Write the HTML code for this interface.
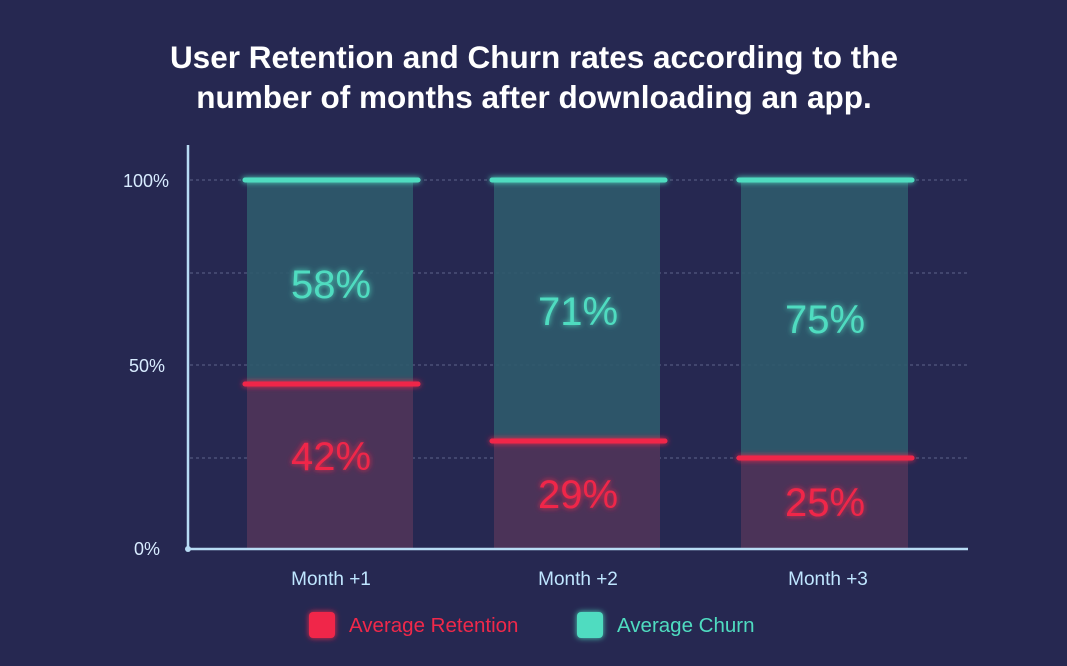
<!DOCTYPE html>
<html><head><style>
body{margin:0;background:#262851;}
svg{display:block}
text{font-family:"Liberation Sans",sans-serif}
</style></head><body>
<svg width="1067" height="666" viewBox="0 0 1067 666">
<defs>
<filter id="g" x="-50%" y="-50%" width="200%" height="200%"><feGaussianBlur stdDeviation="3" result="b"/><feMerge><feMergeNode in="b"/><feMergeNode in="SourceGraphic"/></feMerge></filter>
</defs>
<rect width="1067" height="666" fill="#262851"/>
<text x="534" y="68" fill="#fff" font-size="31.5" font-weight="bold" text-anchor="middle">User Retention and Churn rates according to the</text>
<text x="534" y="108" fill="#fff" font-size="31.5" font-weight="bold" text-anchor="middle">number of months after downloading an app.</text>
<g stroke="#6e7299" stroke-width="1" stroke-dasharray="3,3" opacity="0.8">
<line x1="190" y1="180" x2="968" y2="180"/><line x1="190" y1="273" x2="968" y2="273"/>
<line x1="190" y1="365" x2="968" y2="365"/><line x1="190" y1="458" x2="968" y2="458"/>
</g>
<rect x="247" y="180" width="166" height="204" fill="#2f5a6c" opacity="0.9"/>
<rect x="247" y="384" width="166" height="165" fill="#4b3358"/>
<rect x="494" y="180" width="166" height="261" fill="#2f5a6c" opacity="0.9"/>
<rect x="494" y="441" width="166" height="108" fill="#4b3358"/>
<rect x="741" y="180" width="167" height="278" fill="#2f5a6c" opacity="0.9"/>
<rect x="741" y="458" width="167" height="91" fill="#4b3358"/>
<g stroke-width="5" stroke-linecap="round" filter="url(#g)">
<line x1="245" y1="180" x2="418" y2="180" stroke="#4fdcc0"/>
<line x1="492" y1="180" x2="665" y2="180" stroke="#4fdcc0"/>
<line x1="739" y1="180" x2="912" y2="180" stroke="#4fdcc0"/>
<line x1="245" y1="384" x2="418" y2="384" stroke="#f0284a"/>
<line x1="492" y1="441" x2="665" y2="441" stroke="#f0284a"/>
<line x1="739" y1="458" x2="912" y2="458" stroke="#f0284a"/>
</g>
<g font-size="40" text-anchor="middle" filter="url(#g)">
<text x="331" y="298" fill="#4fdcc0">58%</text>
<text x="578" y="325" fill="#4fdcc0">71%</text>
<text x="825" y="333" fill="#4fdcc0">75%</text>
<text x="331" y="470" fill="#f0284a">42%</text>
<text x="578" y="508" fill="#f0284a">29%</text>
<text x="825" y="516" fill="#f0284a">25%</text>
</g>
<line x1="188" y1="145" x2="188" y2="549" stroke="#b8dcf4" stroke-width="2.5"/>
<line x1="188" y1="549" x2="968" y2="549" stroke="#b8dcf4" stroke-width="2.5"/>
<circle cx="188" cy="549" r="3" fill="#b8dcf4"/>
<g fill="#d8ecff" font-size="18" text-anchor="end">
<text x="169" y="187">100%</text><text x="165" y="372">50%</text><text x="160" y="555">0%</text>
</g>
<g fill="#bfe6ff" font-size="19" text-anchor="middle">
<text x="331" y="585">Month +1</text><text x="578" y="585">Month +2</text><text x="828" y="585">Month +3</text>
</g>
<rect x="309" y="612" width="26" height="26" rx="4" fill="#f0284a" filter="url(#g)"/>
<text x="349" y="632" fill="#f0284a" font-size="20.5">Average Retention</text>
<rect x="577" y="612" width="26" height="26" rx="4" fill="#4fdcc0" filter="url(#g)"/>
<text x="617" y="632" fill="#4fdcc0" font-size="20.5">Average Churn</text>
</svg>
</body></html>
